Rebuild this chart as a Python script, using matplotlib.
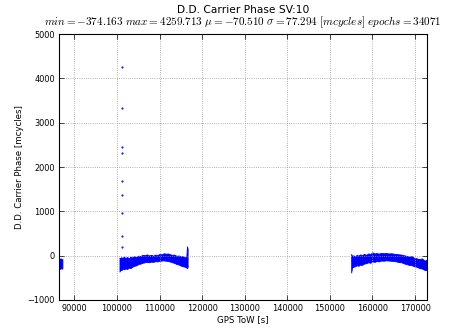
import numpy as np
import matplotlib
matplotlib.use("Agg")
import matplotlib.pyplot as plt

# ==========================
# DATA (double-difference carrier phase, mcycles)
# ==========================
# band envelopes per continuous arc: GPS ToW [s], lower / upper residual
arc1_tow = [86400, 86600, 86800, 87000, 87200]
arc1_lo = [-290, -300, -280, -295, -285]
arc1_hi = [-50, -80, -60, -90, -70]

arc2_tow = [100600, 100800, 101000, 101300, 101600, 102000, 102400, 102800, 103200,
            103600, 104000, 104500, 105000, 105500, 106000, 106500, 107000, 107500,
            108000, 108500, 109000, 109500, 110000, 110500, 111000, 111500, 112000,
            112500, 113000, 113500, 114000, 114500, 115000, 115500, 116000, 116300,
            116450, 116600]
arc2_lo = [-360, -320, -330, -300, -310, -290, -300, -270, -280,
           -250, -230, -220, -190, -180, -160, -150, -140, -150,
           -135, -140, -125, -130, -115, -110, -105, -115, -120,
           -135, -150, -165, -190, -200, -225, -240, -250, -270,
           -280, -260]
arc2_hi = [-40, -70, -30, -60, -20, -50, -30, -60, -20,
           -40, -10, -30, 0, -10, 20, 10, 30, 5,
           20, 0, 25, 15, 40, 30, 55, 45, 50,
           30, 20, 25, -5, 5, -20, -10, -40, -20,
           210, 160]

arc3_tow = [155000, 155200, 155500, 155900, 156300, 156700, 157100, 157500, 158000,
            158500, 159000, 159500, 160000, 160500, 161000, 161500, 162000, 162600,
            163200, 163800, 164400, 165000, 165600, 166200, 166800, 167400, 168000,
            168600, 169200, 169800, 170400, 171000, 171600, 172200, 172800]
arc3_lo = [-380, -270, -250, -240, -215, -230, -200, -210, -180,
           -170, -150, -160, -130, -140, -120, -130, -110, -115,
           -105, -110, -115, -120, -130, -145, -150, -175, -190,
           -210, -215, -240, -250, -280, -290, -320, -330]
arc3_hi = [40, -10, 10, -20, 20, 0, 30, 10, 40,
           20, 50, 40, 75, 50, 60, 45, 65, 55,
           60, 50, 55, 45, 40, 30, 25, 10, -5,
           -20, -10, -50, -60, -80, -60, -110, -90]

# isolated cycle-slip outliers near the start of arc 2
slip_tow = [101100, 101150, 101100, 101150, 101100, 101100, 101100, 101150, 101100]
slip_val = [4259.713, 3325, 2460, 2310, 1690, 1380, 955, 450, 190]

stats = dict(vmin=-374.163, vmax=4259.713, mu=-70.510, sigma=77.294, epochs=34071)

xticks = list(range(90000, 170001, 10000))
yticks = list(range(-1000, 5001, 1000))

# ==========================
# PLOT
# ==========================
plt.rcParams["mathtext.fontset"] = "cm"
fig = plt.figure(figsize=(4.74, 3.34), dpi=100)
ax = fig.add_axes([0.1245, 0.1018, 0.7763, 0.7962])

for tow, lo, hi in [(arc1_tow, arc1_lo, arc1_hi),
                    (arc2_tow, arc2_lo, arc2_hi),
                    (arc3_tow, arc3_lo, arc3_hi)]:
    ax.fill_between(tow, lo, hi, color="b", linewidth=0.6, edgecolor="b")

ax.plot(slip_tow, slip_val, ".", color="b", markersize=1.1)

ax.set_xlim(86400, 172800)
ax.set_ylim(-1000, 5000)
ax.set_xticks(xticks)
ax.set_yticks(yticks)
ax.grid(True, color="0.6", linestyle=":", linewidth=0.6)
ax.tick_params(direction="in", top=True, right=True, labelsize=5.9,
               length=3.5, width=0.5, pad=3)
for sp in ax.spines.values():
    sp.set_linewidth(0.8)

ax.set_xlabel("GPS ToW [s]", fontsize=6.2, labelpad=1.5)
ax.set_ylabel("D.D. Carrier Phase [mcycles]", fontsize=6.2, labelpad=2.5)

fig.text(0.513, 0.970, "D.D. Carrier Phase SV:10", fontsize=7.7,
         ha="center", va="center")
subtitle = (r"$min={vmin:.3f}\ max={vmax:.3f}\ \mu={mu:.3f}\ \sigma={sigma:.3f}"
            r"\ [mcycles]\ epochs={epochs}$").format(**stats)
fig.text(0.513, 0.933, subtitle, fontsize=8, ha="center", va="center")

fig.savefig("out.png", dpi=100)
